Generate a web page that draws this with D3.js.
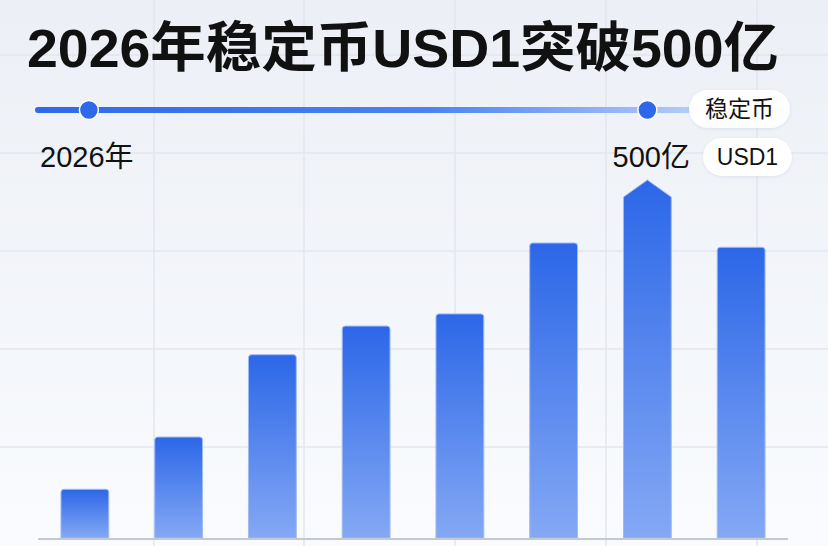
<!DOCTYPE html>
<html>
<head>
<meta charset="utf-8">
<script src="https://cdn.jsdelivr.net/npm/d3@7"></script>
<style>
  html, body { margin: 0; padding: 0; background: #f3f5f9; }
  svg { display: block; }
  text { font-family: "Liberation Sans", "Noto Sans CJK SC", sans-serif; }
</style>
</head>
<body>
<svg width="828" height="546"></svg>
<script>
var title = "2026年稳定币USD1突破500亿";
var categories = ["P1", "P2", "P3", "P4", "P5", "P6", "P7", "P8"];
var values = [68, 141, 256, 296, 313, 412, 500, 406];   // 亿
var peakIndex = 6;
var startLabel = "2026年";
var endLabel = "500亿";
var tags = ["稳定币", "USD1"];

var svg = d3.select("svg"),
    width = +svg.attr("width"),
    height = +svg.attr("height");

var defs = svg.append("defs");

var bg = defs.append("linearGradient").attr("id", "bg")
    .attr("x1", 0).attr("y1", 0).attr("x2", 0).attr("y2", 1);
bg.append("stop").attr("offset", "0%").attr("stop-color", "#eceff5");
bg.append("stop").attr("offset", "100%").attr("stop-color", "#f9fbfe");

var barGrad = defs.append("linearGradient").attr("id", "barGrad")
    .attr("x1", 0).attr("y1", 0).attr("x2", 0).attr("y2", 1);
barGrad.append("stop").attr("offset", "0%").attr("stop-color", "#2c67e8");
barGrad.append("stop").attr("offset", "100%").attr("stop-color", "#84a8f4");

var lineY = 110;
var lineGrad = defs.append("linearGradient").attr("id", "lineGrad")
    .attr("gradientUnits", "userSpaceOnUse")
    .attr("x1", 38).attr("y1", lineY).attr("x2", 690).attr("y2", lineY);
lineGrad.append("stop").attr("offset", "0%").attr("stop-color", "#2d69ea");
lineGrad.append("stop").attr("offset", "60%").attr("stop-color", "#4b83f0");
lineGrad.append("stop").attr("offset", "100%").attr("stop-color", "#b3cbf8");

var shadow = defs.append("filter").attr("id", "pillShadow")
    .attr("x", "-20%").attr("y", "-30%").attr("width", "140%").attr("height", "160%");
shadow.append("feDropShadow").attr("dx", 0).attr("dy", 1).attr("stdDeviation", 1.5)
    .attr("flood-color", "#8090b0").attr("flood-opacity", 0.18);

svg.append("rect").attr("width", width).attr("height", height).attr("fill", "url(#bg)");

// background grid
var gridX = [154, 304, 455, 606, 757];
var gridY = [55, 153, 251, 349, 447];
svg.append("g").selectAll("line").data(gridX).enter().append("line")
    .attr("x1", function(d) { return d; }).attr("x2", function(d) { return d; })
    .attr("y1", 0).attr("y2", height)
    .attr("stroke", "#e3e6ee").attr("stroke-width", 1.5);
svg.append("g").selectAll("line").data(gridY).enter().append("line")
    .attr("y1", function(d) { return d; }).attr("y2", function(d) { return d; })
    .attr("x1", 0).attr("x2", width)
    .attr("stroke", "#e3e6ee").attr("stroke-width", 1.5);

var baseY = 538;
var x = d3.scaleBand().domain(categories).range([38, 788]).paddingInner(0.49).paddingOuter(0.245);
var y = d3.scaleLinear().domain([0, 500]).range([baseY, 180]);

// title
svg.append("text")
    .attr("x", 27).attr("y", 67)
    .attr("font-size", 54).attr("font-weight", "bold")
    .attr("textLength", 752).attr("lengthAdjust", "spacingAndGlyphs")
    .attr("fill", "#111111")
    .text(title);

// timeline
var dots = [x(categories[0]) + x.bandwidth() / 2 + 4, x(categories[peakIndex]) + x.bandwidth() / 2];
svg.append("line")
    .attr("x1", 38).attr("x2", 690).attr("y1", lineY).attr("y2", lineY)
    .attr("stroke", "url(#lineGrad)").attr("stroke-width", 6).attr("stroke-linecap", "round");
svg.append("g").selectAll("circle").data(dots).enter().append("circle")
    .attr("cx", function(d) { return d; }).attr("cy", lineY).attr("r", 9.5)
    .attr("fill", "#2d69ea").attr("stroke", "#ffffff").attr("stroke-width", 1.5);

svg.append("text").attr("x", 40).attr("y", 167)
    .attr("font-size", 29).attr("fill", "#111111").text(startLabel);
svg.append("text").attr("x", 690).attr("y", 167).attr("text-anchor", "end")
    .attr("font-size", 29).attr("fill", "#111111").text(endLabel);

// pills
var pills = [
  { text: tags[0], x: 689, y: 90, w: 101, h: 38 },
  { text: tags[1], x: 703, y: 138, w: 89, h: 38 }
];
var pill = svg.append("g").selectAll("g").data(pills).enter().append("g");
pill.append("rect")
    .attr("x", function(d) { return d.x; }).attr("y", function(d) { return d.y; })
    .attr("width", function(d) { return d.w; }).attr("height", function(d) { return d.h; })
    .attr("rx", 19).attr("fill", "#ffffff").attr("filter", "url(#pillShadow)");
pill.append("text")
    .attr("x", function(d) { return d.x + d.w / 2; })
    .attr("y", function(d) { return d.y + d.h / 2 + 8; })
    .attr("text-anchor", "middle").attr("font-size", 23).attr("fill", "#111111")
    .text(function(d) { return d.text; });

// bars
function barPath(d, i) {
  var x0 = x(categories[i]), w = x.bandwidth(), top = y(d), r = 3;
  if (i === peakIndex) {
    var shoulder = top + 17;
    return "M" + x0 + "," + baseY + "V" + shoulder + "L" + (x0 + w / 2) + "," + top +
      "L" + (x0 + w) + "," + shoulder + "V" + baseY + "Z";
  }
  return "M" + x0 + "," + baseY + "V" + (top + r) + "Q" + x0 + "," + top + " " + (x0 + r) + "," + top +
    "H" + (x0 + w - r) + "Q" + (x0 + w) + "," + top + " " + (x0 + w) + "," + (top + r) +
    "V" + baseY + "Z";
}
svg.append("g").selectAll("path").data(values).enter().append("path")
    .attr("d", barPath)
    .attr("fill", "url(#barGrad)")
    .attr("stroke", "#9fbaf5").attr("stroke-width", 1);

// baseline
svg.append("line")
    .attr("x1", 38).attr("x2", 788).attr("y1", baseY + 1).attr("y2", baseY + 1)
    .attr("stroke", "#c4c8d1").attr("stroke-width", 2);
</script>
</body>
</html>
